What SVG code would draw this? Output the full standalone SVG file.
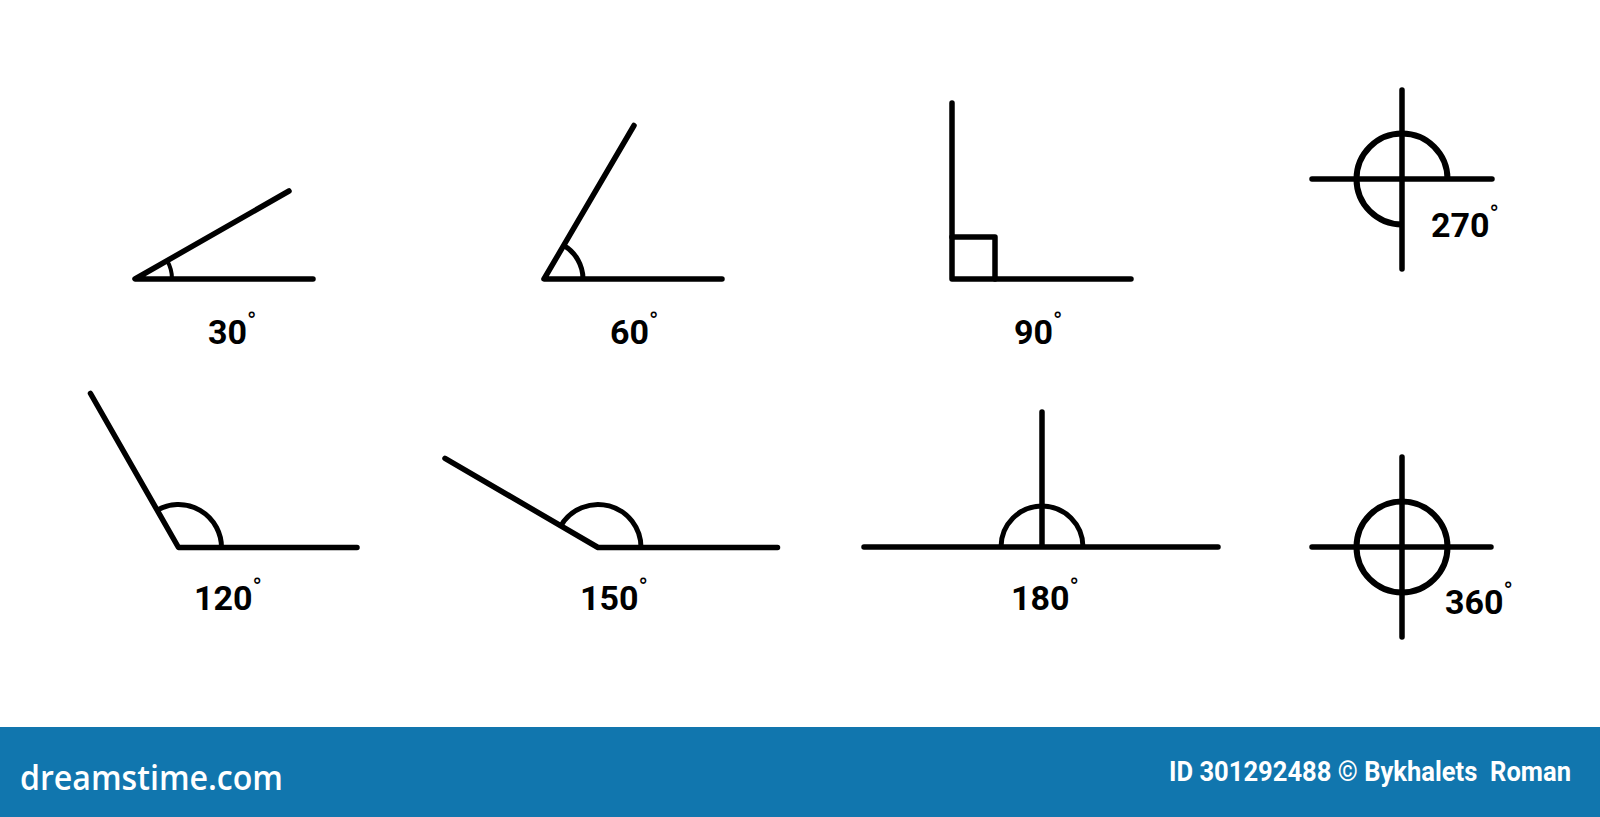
<svg xmlns="http://www.w3.org/2000/svg" width="1600" height="817" viewBox="0 0 1600 817">
<style>
.ln{fill:none;stroke:#000;stroke-width:5.5;stroke-linecap:round;stroke-linejoin:round}
.arc{fill:none;stroke:#000;stroke-width:5;stroke-linecap:butt}
.lbl{font-family:Roboto,"Liberation Sans",sans-serif;font-weight:700;font-size:34px;fill:#000}
.deg{font-weight:400;font-size:25px}
.ban{font-family:Roboto,"Liberation Sans",sans-serif;font-weight:700;fill:#fff}
.logo{font-family:"Open Sans","Liberation Sans",sans-serif;font-weight:600;fill:#fff}
</style>
<rect width="1600" height="817" fill="#fff"/>
<g id="a30">
<path class="ln" d="M289,191 L135,279 H313"/>
<path class="arc" style="stroke-width:4" d="M172,279 A37,37 0 0 0 167.2,260.8"/>
<text class="lbl" x="208" y="344">30<tspan class="deg" dx="0" dy="-14">°</tspan></text>
</g>
<g id="a60">
<path class="ln" d="M634,125.5 L544,279 H722"/>
<path class="arc" d="M583,279 A39,39 0 0 0 563.7,245.4"/>
<text class="lbl" x="610" y="344">60<tspan class="deg" dx="0" dy="-14">°</tspan></text>
</g>
<g id="a90">
<path class="ln" d="M952,103 V279 H1131"/>
<path class="ln" d="M952,237 H995 V279"/>
<text class="lbl" x="1014" y="344">90<tspan class="deg" dx="0" dy="-14">°</tspan></text>
</g>
<g id="a270">
<path class="ln" d="M1402,90 V269 M1312,179 H1492"/>
<path class="arc" style="stroke-width:6" d="M1447.5,179 A45.5,45.5 0 1 0 1402,224.5"/>
<text class="lbl" x="1431" y="237">270<tspan class="deg" dx="0" dy="-14">°</tspan></text>
</g>
<g id="a120">
<path class="ln" d="M90.5,393.5 L178.5,547.5 H357"/>
<path class="arc" d="M221.5,547.5 A43,43 0 0 0 157.2,510.2"/>
<text class="lbl" x="194" y="610">120<tspan class="deg" dx="0" dy="-14">°</tspan></text>
</g>
<g id="a150">
<path class="ln" d="M445,458.3 L598,547.5 H777.5"/>
<path class="arc" d="M641,547.5 A43,43 0 0 0 560.8,525.9"/>
<text class="lbl" x="580" y="610">150<tspan class="deg" dx="0" dy="-14">°</tspan></text>
</g>
<g id="a180">
<path class="ln" d="M864,547 H1218 M1042,412 V547"/>
<path class="arc" d="M1001,547 A41,41 0 0 1 1083,547"/>
<text class="lbl" x="1011" y="610">180<tspan class="deg" dx="0" dy="-14">°</tspan></text>
</g>
<g id="a360">
<path class="ln" d="M1402,457 V637 M1312,547 H1491"/>
<circle class="arc" style="stroke-width:6" cx="1402" cy="547" r="45.5"/>
<text class="lbl" x="1445" y="614">360<tspan class="deg" dx="0" dy="-14">°</tspan></text>
</g>
<g id="banner">
<rect x="0" y="727" width="1600" height="90" fill="#1176ae"/>
<text class="logo" x="20" y="790" font-size="34" textLength="263" lengthAdjust="spacingAndGlyphs">dreamstime.com</text>
<text class="ban" x="1169" y="781" font-size="27" textLength="402" lengthAdjust="spacingAndGlyphs" style="white-space:pre">ID 301292488 © Bykhalets  Roman</text>
</g>
</svg>
